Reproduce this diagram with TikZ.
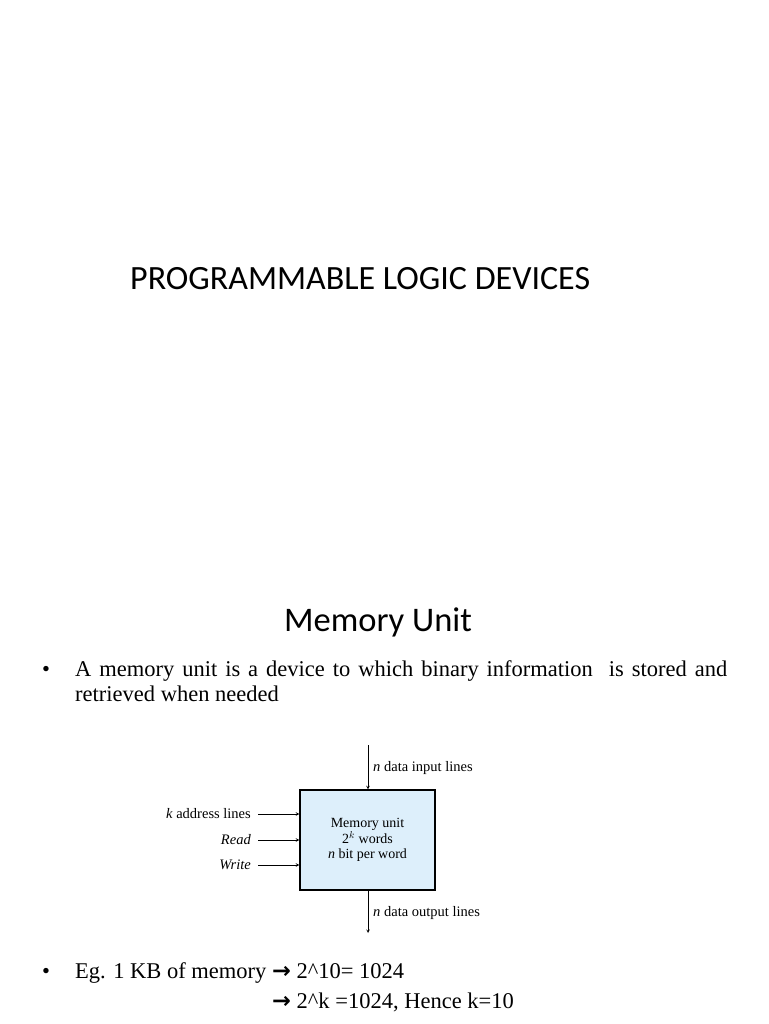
\documentclass[tikz,border=0pt]{standalone}
\usepackage{fontspec}
\setmainfont{Liberation Serif}
\newfontfamily\calib{Carlito}
\newfontfamily\dejav{DejaVu Sans}
\begin{document}
\begin{tikzpicture}[x=1pt,y=-1pt,
  lbl/.style={font=\fontsize{14.5}{16}\selectfont, inner sep=1pt},
  body/.style={font=\fontsize{22.5}{25}\selectfont, anchor=base west, inner sep=0pt},
  arr/.style={-stealth, line width=0.6pt}]
\useasboundingbox (0,0) rectangle (768,1024);
\node[font=\calib\fontsize{34}{40}\selectfont, anchor=base west, inner sep=0pt] (title) at (130,289) {PROGRAMMABLE LOGIC DEVICES};
\node[font=\calib\fontsize{34.5}{40}\selectfont, anchor=base, inner sep=0pt] (sub) at (378,631) {Memory Unit};
\node[body] (b1) at (42,676) {•};
\node[body, text width=652pt, align=justify] (t1) at (75,676) {\baselineskip=24pt A memory unit is a device to which binary information\ \ is stored and retrieved when needed};
\node[draw, line width=1.3pt, fill={rgb,255:red,221;green,239;blue,251}, minimum width=135pt, minimum height=100pt, align=center, font=\fontsize{14}{15}\selectfont] (mem) at (367.5,840) {Memory unit\\2$^{k}$ words\\\textit{n} bit per word};
\coordinate (tin) at (368,745);
\coordinate (bout) at (368,933);
\draw[arr] (tin) -- (mem.north -| tin);
\draw[arr] (mem.south -| bout) -- (bout);
\node[lbl, anchor=west] (lin) at (372,768) {\textit{n} data input lines};
\node[lbl, anchor=west] (lout) at (372,913) {\textit{n} data output lines};
\foreach \nm/\yy/\tx in {a/814/{\textit{k} address lines}, r/840/{\textit{Read}}, w/865/{\textit{Write}}}{
  \coordinate (s\nm) at (258,\yy);
  \node[lbl, anchor=east] (l\nm) at (252,\yy) {\tx};
  \draw[arr] (s\nm) -- (mem.west |- s\nm);
}
\node[body] (b2) at (42,978) {•};
\node[body] (t2) at (75,978) {Eg. 1 KB of memory {\dejav\bfseries →} 2\^{}10= 1024};
\node[body] (t3) at (272,1008) {{\dejav\bfseries →} 2\^{}k =1024, Hence k=10};
\end{tikzpicture}
\end{document}
